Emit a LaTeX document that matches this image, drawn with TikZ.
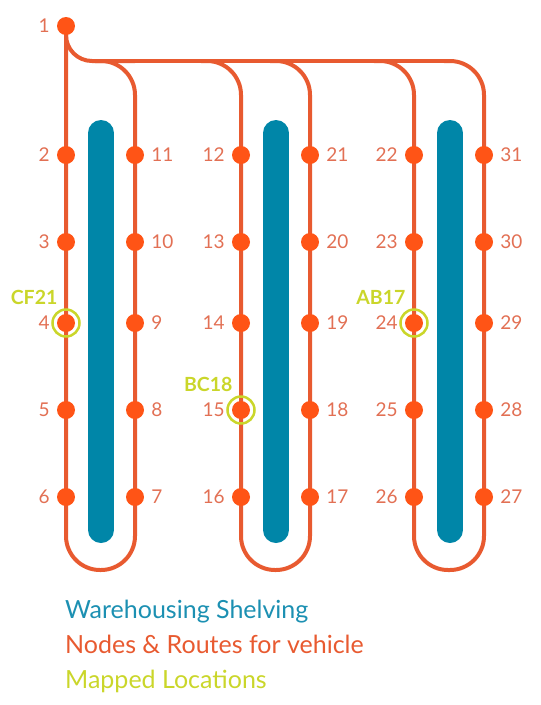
\documentclass[tikz,border=0pt]{standalone}
\usepackage{fontspec}
\setmainfont{Lato}
\usepackage{tikz}
\usetikzlibrary{positioning, backgrounds, calc}
\definecolor{routeorange}{RGB}{232,90,48}
\definecolor{nodeorange}{RGB}{255,84,22}
\definecolor{labelorange}{RGB}{226,112,84}
\definecolor{shelfblue}{RGB}{0,134,168}
\definecolor{legendblue}{RGB}{28,144,178}
\definecolor{mapgreen}{RGB}{202,214,42}

\begin{document}
\begin{tikzpicture}[x=1pt, y=-1pt,
  stop/.style={circle, fill=nodeorange, minimum size=18pt, inner sep=0pt},
  num/.style={text=labelorange, font=\fontsize{19}{19}\selectfont, inner sep=2pt},
  label distance=5pt,
  route/.style={draw=routeorange, line width=4pt, rounded corners=34pt},
  shelf/.style={draw=shelfblue, line width=26pt, line cap=round},
  ring/.style={circle, draw=mapgreen, line width=2.5pt, minimum size=27pt, inner sep=0pt},
  tag/.style={text=mapgreen, font=\fontsize{19.5}{19.5}\selectfont\bfseries, inner sep=0pt},
  legend/.style={anchor=base west, font=\fontsize{25}{25}\selectfont, inner sep=0pt},
]
\useasboundingbox (0,0) rectangle (541,705);
\coordinate (top) at (0,61);
\coordinate (bot) at (0,570);

\node[stop, label={[num]left:1}] (n1) at (66,26) {};
\foreach \c/\xl/\xr in {0/66/135, 1/241/310, 2/414/484} {
  \foreach \r/\y in {1/155, 2/242, 3/323, 4/410, 5/497} {
    \pgfmathtruncatemacro{\nl}{10*\c+1+\r}
    \pgfmathtruncatemacro{\nr}{10*\c+12-\r}
    \node[stop, label={[num]left:\nl}] (n\nl) at (\xl,\y) {};
    \node[stop, label={[num]right:\nr}] (n\nr) at (\xr,\y) {};
  }
}

\begin{scope}[on background layer]
\foreach \x in {101, 276, 450}
  \draw[shelf] (\x,133) -- (\x,530);
\draw[route, rounded corners=26pt] (n1.center) |- (n11 |- top);
\draw[route] (n11 |- top) -- ($(n31 |- top)+(-40,0)$);
\draw[route] (n1.center) -- (n6 |- bot) -- (n7 |- bot) -- (n11 |- top) -- ++(-40,0);
\draw[route] ($(n12 |- top)+(-40,0)$) -- (n12 |- top) -- (n16 |- bot)
  -- (n17 |- bot) -- (n21 |- top) -- ++(-40,0);
\draw[route] ($(n22 |- top)+(-40,0)$) -- (n22 |- top) -- (n26 |- bot)
  -- (n27 |- bot) -- (n31 |- top) -- ++(-40,0);
\end{scope}

\node[ring] (m4) at (n4) {};
\node[ring] (m15) at (n15) {};
\node[ring] (m24) at (n24) {};
\node[tag, above left=8pt and -2pt of m4] (cf) {CF21};
\node[tag, above left=8pt and -2pt of m15] (bc) {BC18};
\node[tag, above left=8pt and -2pt of m24] (ab) {AB17};

\node[legend, text=legendblue] (lshelf) at (65,618) {Warehousing Shelving};
\node[legend, text=routeorange] (lroute) at (65,653) {Nodes \& Routes for vehicle};
\node[legend, text=mapgreen] (lmap) at (65,688) {Mapped Locations};
\end{tikzpicture}
\end{document}
